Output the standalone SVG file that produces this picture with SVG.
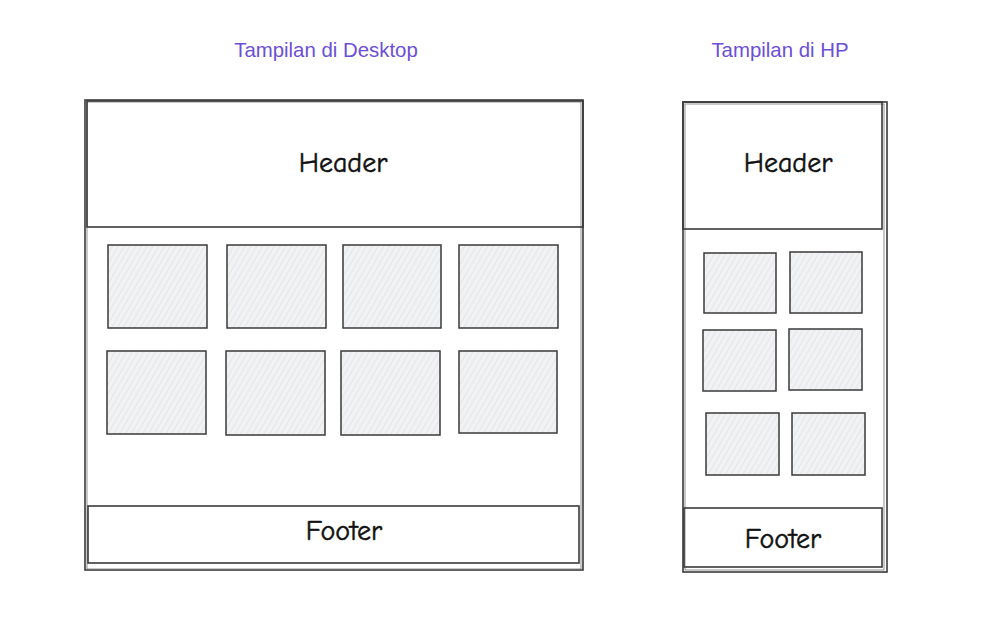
<svg xmlns="http://www.w3.org/2000/svg" width="1000" height="619" viewBox="0 0 1000 619">
<defs>
<pattern id="hatch" patternUnits="userSpaceOnUse" width="5" height="5" patternTransform="rotate(30)">
<rect width="5" height="5" fill="#f1f2f4"/>
<line x1="0" y1="0" x2="0" y2="5" stroke="#dadde1" stroke-width="1.2"/>
</pattern>
</defs>
<style>
.frame{fill:none;stroke:#3a3a3a;stroke-width:1.6}
.frame2{fill:none;stroke:#777;stroke-width:0.8}
.tile{fill:url(#hatch);stroke:#3a3a3a;stroke-width:1.5}
.title{font-family:"Liberation Sans",Arial,sans-serif;font-size:20.4px;fill:#6c4fd6;text-anchor:middle}
.hand{font-family:"Comic Neue","Liberation Sans",sans-serif;font-size:28px;fill:#111;text-anchor:middle;stroke:#111;stroke-width:0.5}
</style>
<rect width="1000" height="619" fill="#fff"/>
<g id="title-desktop"><text class="title" x="326" y="57">Tampilan di Desktop</text></g>
<g id="title-hp"><text class="title" x="780" y="57">Tampilan di HP</text></g>

<g id="desktop-frame">
<rect class="frame" x="85" y="100" width="498" height="470"/>
<rect class="frame2" x="87" y="102" width="494" height="467"/>
</g>
<g id="desktop-header">
<rect class="frame" x="87" y="101" width="496" height="126"/>
<text class="hand" x="343" y="172">Header</text>
</g>
<g id="desktop-footer">
<rect class="frame" x="88" y="506" width="491" height="57"/>
<text class="hand" x="344" y="540">Footer</text>
</g>
<g id="desktop-tiles">
<rect class="tile" x="108" y="245" width="99" height="83"/>
<rect class="tile" x="227" y="245" width="99" height="83"/>
<rect class="tile" x="343" y="245" width="98" height="83"/>
<rect class="tile" x="459" y="245" width="99" height="83"/>
<rect class="tile" x="107" y="351" width="99" height="83"/>
<rect class="tile" x="226" y="351" width="99" height="84"/>
<rect class="tile" x="341" y="351" width="99" height="84"/>
<rect class="tile" x="459" y="351" width="98" height="82"/>
</g>

<g id="hp-frame">
<rect class="frame" x="683" y="102" width="204" height="470"/>
<rect class="frame2" x="685" y="104" width="199" height="466"/>
</g>
<g id="hp-header">
<rect class="frame" x="683" y="102" width="199" height="127"/>
<text class="hand" x="788" y="172">Header</text>
</g>
<g id="hp-footer">
<rect class="frame" x="684" y="508" width="198" height="59"/>
<text class="hand" x="783" y="548">Footer</text>
</g>
<g id="hp-tiles">
<rect class="tile" x="704" y="253" width="72" height="60"/>
<rect class="tile" x="790" y="252" width="72" height="61"/>
<rect class="tile" x="703" y="330" width="73" height="61"/>
<rect class="tile" x="789" y="329" width="73" height="61"/>
<rect class="tile" x="706" y="413" width="73" height="62"/>
<rect class="tile" x="792" y="413" width="73" height="62"/>
</g>
<g id="connectors"/>
</svg>
